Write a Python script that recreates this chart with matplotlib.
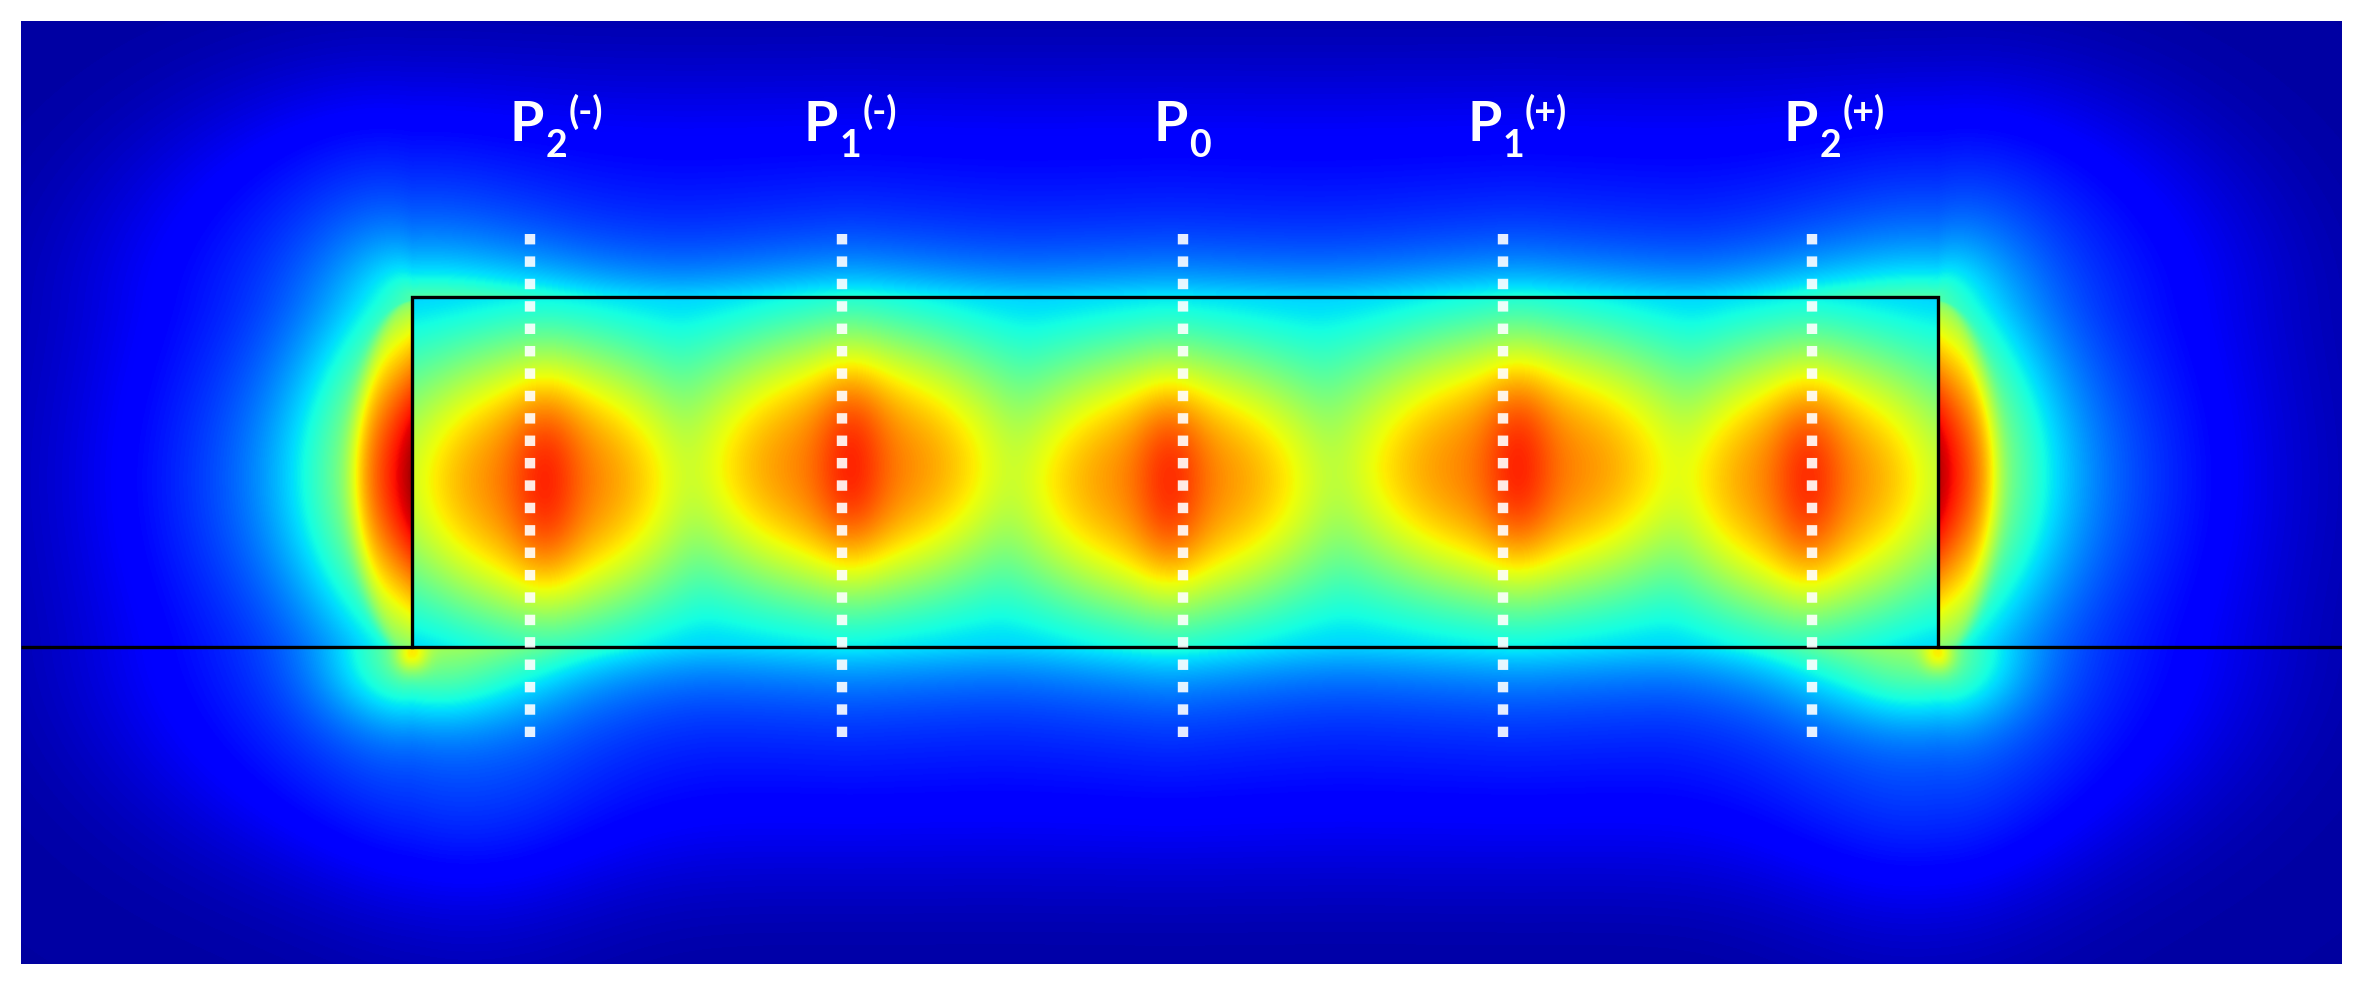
import numpy as np
import matplotlib
matplotlib.use("Agg")
import matplotlib.pyplot as plt

# ---------------- values (pixel units of a 2361x996 image) ----------
fig_w_px, fig_h_px = 2361, 996
frame_x = [21, 2342]          # left / right edge of the field map
frame_y = [21, 964]           # top / bottom edge of the field map
rect_x = [412, 1938]          # waveguide ridge, left / right
rect_y = [297, 647]           # waveguide ridge, top / bottom (= substrate line)

probe_x = [530, 842, 1183, 1503, 1812]
probe_y = [234, 737]
label_main = ["P", "P", "P", "P", "P"]
label_sub = ["2", "1", "0", "1", "2"]
label_sup = ["(-)", "(-)", "", "(+)", "(+)"]
label_x = [510, 804, 1154, 1467, 1784]
label_y = 141

# hot spots inside the ridge (normalised field intensity on the jet scale 0..1)
lobe_x = [545, 851, 1170, 1518, 1808]
lobe_y = [488, 463, 487, 465, 485]
lobe_peak = [0.87, 0.87, 0.86, 0.87, 0.86]
lobe_half_w = [122, 136, 133, 148, 116]   # half width of the yellow contour
lobe_half_h = [138, 132, 130, 133, 136]   # half height of the yellow contour
core_amp = [0.10, 0.10, 0.10, 0.10, 0.10]  # narrow, vertically stretched red core

# side-wall crescents (left, right)
edge_y = [480, 480]
edge_half_h = [178, 178]
edge_peak = [0.17, 0.17]
edge_width = [60, 60]
halo_amp = [0.2, 0.2]

# glow leaking into the substrate below the ridge corners, and deeper radiation beams
corner_glow_x = [430, 1920]
corner_glow_amp = [0.12, 0.12]
beam_x = [470, 1915]
beam_y = [810, 820]
beam_amp = [0.05, 0.05]

# ---------------- build the field ----------------
x0, x1 = rect_x
y0, y1 = rect_y
xs = np.arange(frame_x[0], frame_x[1]) + 0.5
ys = np.arange(frame_y[0], frame_y[1]) + 0.5
X, Y = np.meshgrid(xs, ys)

cx = np.clip(X, x0, x1)
cy = np.clip(Y, y0, y1)
t = (cy - y0) / (y1 - y0)
base_edge, base_mid = 0.33, 0.48
base = base_edge + (base_mid - base_edge) * np.sin(np.pi * t) ** 1.2

K = 3.0
acc = np.zeros_like(X)
for xc, yc, pk, hw, hh, ca in zip(lobe_x, lobe_y, lobe_peak, lobe_half_w, lobe_half_h, core_amp):
    a = hw / 0.87
    b = hh / 0.955
    r = np.sqrt(((cx - xc) / a) ** 2 + ((cy - yc) / b) ** 2)
    broad = (pk - base_mid - ca) * np.exp(-r ** 3)
    core = ca * np.exp(-((cx - xc) / 35.0) ** 2 - ((cy - yc) / 105.0) ** 2)
    acc += (broad + core) ** K
Fb = base + acc ** (1.0 / K)

dxo = np.maximum(x0 - X, 0) + np.maximum(X - x1, 0)
dyt = np.maximum(y0 - Y, 0)
dyb = np.maximum(Y - y1, 0)
d = np.hypot(dxo, dyt + dyb)
L_side, L_top, L_bot = 110.0, 55.0, 60.0
L = (dxo * L_side + dyt * L_top + dyb * L_bot + 1e-9 * L_top) / (dxo + dyt + dyb + 1e-9)

deff = np.sqrt((dxo / 330.0) ** 2 + (dyt / 230.0) ** 2 + (dyb / 235.0) ** 2)
bg = 0.03 + 0.09 * np.exp(-deff ** 4)
for bx, by, ba in zip(beam_x, beam_y, beam_amp):
    bg += ba * np.exp(-((X - bx) / 140.0) ** 2 - ((Y - by) / 150.0) ** 2)

F = bg + (Fb - bg) * np.exp(-d / L)

inside = (X >= x0) & (X <= x1) & (Y >= y0) & (Y <= y1)
below = Y > y1
for gx, ga in zip(corner_glow_x, corner_glow_amp):
    cg = ga * np.exp(-((X - gx) / 95.0) ** 2 - ((Y - y1 - 25) / 55.0) ** 2)
    cg[~below] = 0
    F += cg

# side-wall crescents and their halo
for side, (ey, ehh, ep, ew, ha) in enumerate(zip(edge_y, edge_half_h, edge_peak, edge_width, halo_amp)):
    dx = (x0 - X) if side == 0 else (X - x1)
    prof = np.clip(1 - ((Y - ey) / ehh) ** 2, 0, 1)
    w = ew * np.sqrt(prof) + 1e-6
    g = np.exp(-(np.clip(dx, 0, None) / w) ** 6) * prof ** 0.3
    g[(dx < 0) | below] = 0
    F += ep * g
    halo = ha * np.exp(-((dx + 10) / 120.0) ** 2 - ((Y - ey + 20) / 210.0) ** 2)
    halo[inside] = 0
    F += halo
    cxp = x0 if side == 0 else x1
    spot = 0.15 * np.exp(-((X - cxp) / 16.0) ** 2 - ((Y - y1 - 8) / 18.0) ** 2)
    spot[~below] = 0
    F += spot

F = np.clip(F, 0, 1)

# ---------------- draw ----------------
dpi = 100
fig = plt.figure(figsize=(fig_w_px / dpi, fig_h_px / dpi), dpi=dpi)
fig.patch.set_facecolor("white")
ax = fig.add_axes([frame_x[0] / fig_w_px, 1 - frame_y[1] / fig_h_px,
                   (frame_x[1] - frame_x[0]) / fig_w_px, (frame_y[1] - frame_y[0]) / fig_h_px])
ax.imshow(F, cmap="jet", vmin=0, vmax=1, extent=[frame_x[0], frame_x[1], frame_y[1], frame_y[0]],
          aspect="auto", interpolation="bilinear")
ax.set_xlim(frame_x)
ax.set_ylim(frame_y[1], frame_y[0])
ax.axis("off")

lw = 2.4
ax.plot([frame_x[0], frame_x[1]], [y1, y1], color="black", lw=lw, solid_capstyle="butt")
ax.plot([x0, x0, x1, x1], [y1, y0, y0, y1], color="black", lw=lw, solid_joinstyle="miter")

for px in probe_x:
    ax.plot([px, px], probe_y, color="white", alpha=0.9, lw=7.5, linestyle=(0, (1.0, 1.15)),
            dash_capstyle="butt")

renderer = fig.canvas.get_renderer()
inv = ax.transData.inverted()
font = dict(family="Lato", weight="bold", color="white")
for lx, m, s, u in zip(label_x, label_main, label_sub, label_sup):
    tm = ax.text(lx, label_y, m, fontsize=40, ha="left", va="baseline", **font)
    bb = tm.get_window_extent(renderer)
    xr = inv.transform((bb.x1, bb.y0))[0]
    ts = ax.text(xr + 1, label_y + 16, s, fontsize=27, ha="left", va="baseline", **font)
    if u:
        bb2 = ts.get_window_extent(renderer)
        xr2 = inv.transform((bb2.x1, bb2.y0))[0]
        ax.text(xr2 + 1, label_y - 17, u, fontsize=27, ha="left", va="baseline", **font)

fig.savefig("out.png", dpi=dpi, facecolor="white")
